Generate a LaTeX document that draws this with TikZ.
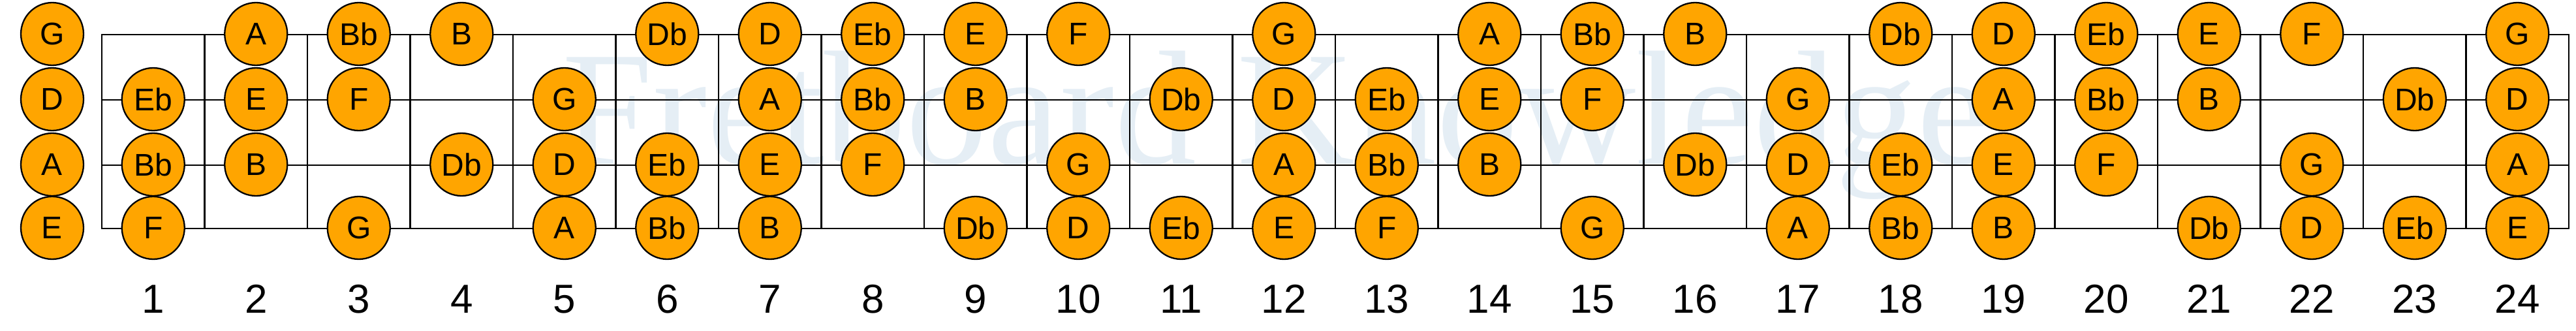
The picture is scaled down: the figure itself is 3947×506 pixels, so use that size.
\documentclass[tikz,border=0pt]{standalone}
\usepackage{fontspec}
\setmainfont{Liberation Sans}
\newfontfamily\wmfont{Liberation Serif}
\definecolor{noteorange}{RGB}{255,165,0}
\definecolor{wmblue}{RGB}{229,238,245}
\newcommand\notename[1]{\ifcase#1 \or Db\or D\or Eb\or E\or F\or \or G\or \or A\or Bb\or B\fi}
\begin{document}
\begin{tikzpicture}[x=1pt,y=-1pt,
  note/.style={circle,draw=black,line width=2.3pt,fill=noteorange,minimum size=96pt,inner sep=0pt,font=\fontsize{48}{48}\selectfont},
  fretnum/.style={font=\fontsize{62}{62}\selectfont,anchor=base,inner sep=0pt},
  gridline/.style={line width=2.2pt,black,line cap=rect},
  watermark/.style={font=\wmfont\fontsize{250}{250}\selectfont,text=wmblue,anchor=base west,inner sep=0pt}]
\useasboundingbox (0,0) rectangle (3947,506);
% watermark
\node[watermark] (wm) at (861,251) {Fretboard Knowledge};
% strings
\foreach \y [count=\i] in {53,153,253,350} {
  \coordinate (s\i-L) at (156,\y);
  \coordinate (s\i-R) at (3936,\y);
  \draw[gridline] (s\i-L) -- (s\i-R);
}
% frets
\foreach \f in {0,...,24} {
  \pgfmathsetmacro\fx{156+\f*157.5}
  \coordinate (fr\f-T) at (\fx,53);
  \coordinate (fr\f-B) at (\fx,350);
  \draw[gridline] (fr\f-T) -- (fr\f-B);
}
% fret numbers
\foreach \f in {1,...,24} {
  \pgfmathsetmacro\fx{156+(\f-0.5)*157.5}
  \node[fretnum] (num\f) at (\fx,479) {\f};
}
% notes
\foreach \o/\y [count=\i] in {7/52,2/152,9/252,4/349} {
  \foreach \f in {0,...,24} {
    \pgfmathsetmacro\nx{\f==0 ? 80 : 156+(\f-0.5)*157.5}
    \pgfmathtruncatemacro\pc{mod(\o+\f,12)}
    \ifnum\pc=0 \else\ifnum\pc=6 \else\ifnum\pc=8 \else
      \node[note] (n\i-\f) at (\nx,\y) {\notename{\pc}};
    \fi\fi\fi
  }
}
\end{tikzpicture}
\end{document}
